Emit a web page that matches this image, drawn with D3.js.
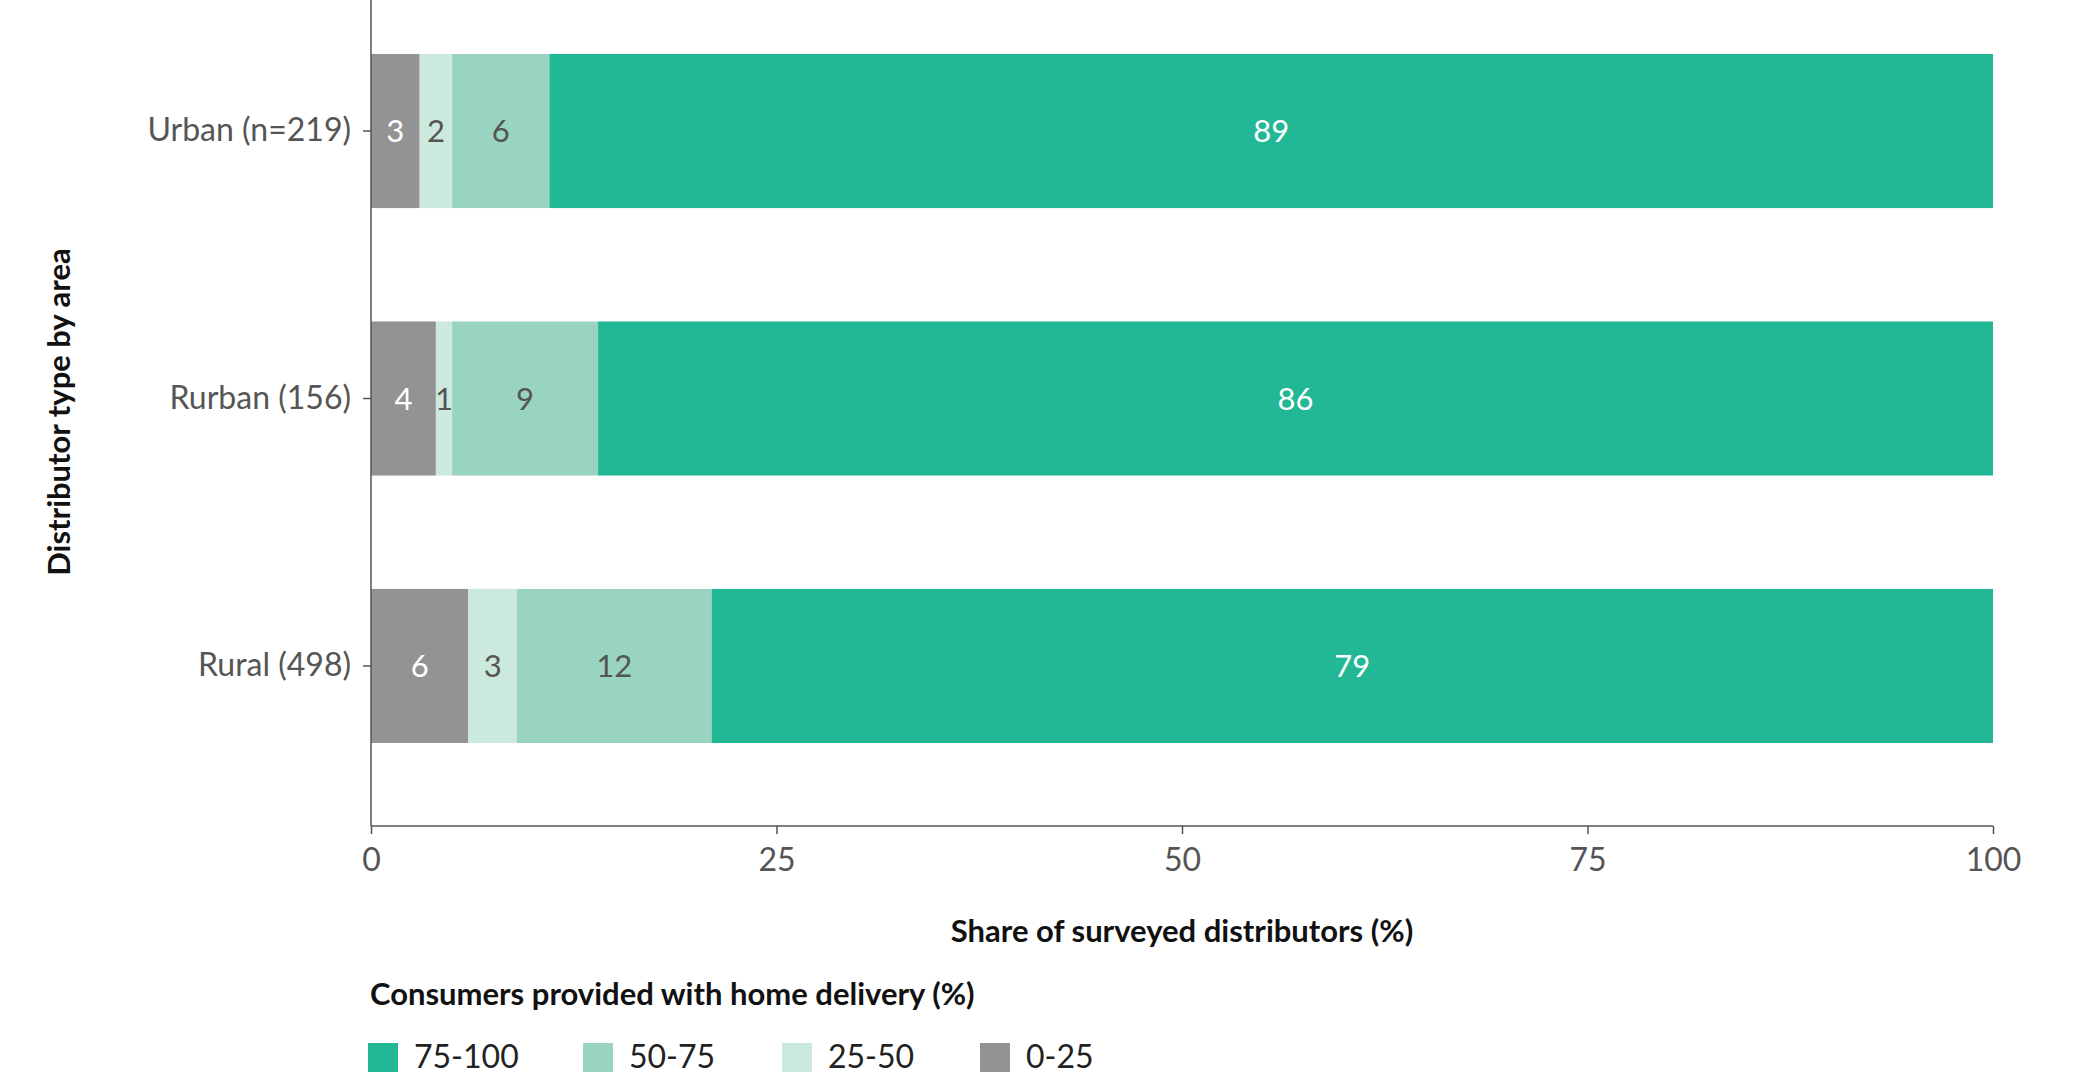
<!DOCTYPE html><html><head><meta charset="utf-8"><script src="https://cdn.jsdelivr.net/npm/d3@7"></script>
<style>body{margin:0;background:#fff}text{font-family:Lato,"Open Sans",sans-serif}</style></head><body>
<svg id="c" width="2073" height="1082"></svg>
<script>
const categories=["Urban (n=219)","Rurban (156)","Rural (498)"];
const seriesNames=["0-25","25-50","50-75","75-100"];
const v0_25=[3,4,6], v25_50=[2,1,3], v50_75=[6,9,12], v75_100=[89,86,79];
const colors=["#939393","#cce9de","#98d4c0","#22b895"];
const labelColors=["#fff","#555","#555","#fff"];
const xTicks=[0,25,50,75,100];
const svg=d3.select("#c");
const x=d3.scaleLinear().domain([0,100]).range([371,1993]);
const y=d3.scaleBand().domain(categories).range([54,743]).paddingInner(0.424).paddingOuter(0);
const rows=categories.map((c,i)=>({cat:c,"0-25":v0_25[i],"25-50":v25_50[i],"50-75":v50_75[i],"75-100":v75_100[i]}));
const stack=d3.stack().keys(seriesNames)(rows);
stack.forEach((s,k)=>{
 const g=svg.append("g");
 g.selectAll("rect").data(s).join("rect").attr("x",d=>x(d[0])).attr("width",d=>x(d[1])-x(d[0]))
  .attr("y",d=>y(d.data.cat)).attr("height",y.bandwidth()).attr("fill",colors[k]);
 g.selectAll("text").data(s).join("text").attr("x",d=>(x(d[0])+x(d[1]))/2).attr("y",d=>y(d.data.cat)+y.bandwidth()/2)
  .attr("dy","0.36em").attr("text-anchor","middle").attr("font-size",31).attr("fill",labelColors[k]).text(d=>d[1]-d[0]);
});
const xa=svg.append("g").attr("transform","translate(0,826)").call(d3.axisBottom(x).tickValues(xTicks).tickSize(8).tickPadding(14));
const ya=svg.append("g").attr("transform","translate(371,0)").call(d3.axisLeft(y).tickSize(8).tickPadding(12));
[xa,ya].forEach(a=>{a.selectAll("path,line").attr("stroke","#555").attr("stroke-width",1.5);a.selectAll("text").attr("font-size",32).attr("fill","#555").style("font-family","Lato");});
xa.select(".domain").attr("d","M371,0H1993");
ya.select(".domain").attr("d","M0,0V826");
svg.append("text").attr("x",1182).attr("y",942).attr("text-anchor","middle").attr("font-size",31).attr("font-weight","bold").attr("fill","#111").text("Share of surveyed distributors (%)");
svg.append("text").attr("transform","translate(70,412) rotate(-90)").attr("text-anchor","middle").attr("font-size",31).attr("font-weight","bold").attr("fill","#111").text("Distributor type by area");
svg.append("text").attr("x",370).attr("y",1005).attr("font-size",31).attr("font-weight","bold").attr("fill","#111").text("Consumers provided with home delivery (%)");
const legOrder=[3,2,1,0], legX=[368,583,782,980];
legOrder.forEach((k,i)=>{
 svg.append("rect").attr("x",legX[i]).attr("y",1043).attr("width",30).attr("height",29).attr("fill",colors[k]);
 svg.append("text").attr("x",legX[i]+46).attr("y",1068).attr("font-size",32).attr("fill","#222").text(seriesNames[k]);
});
</script></body></html>
